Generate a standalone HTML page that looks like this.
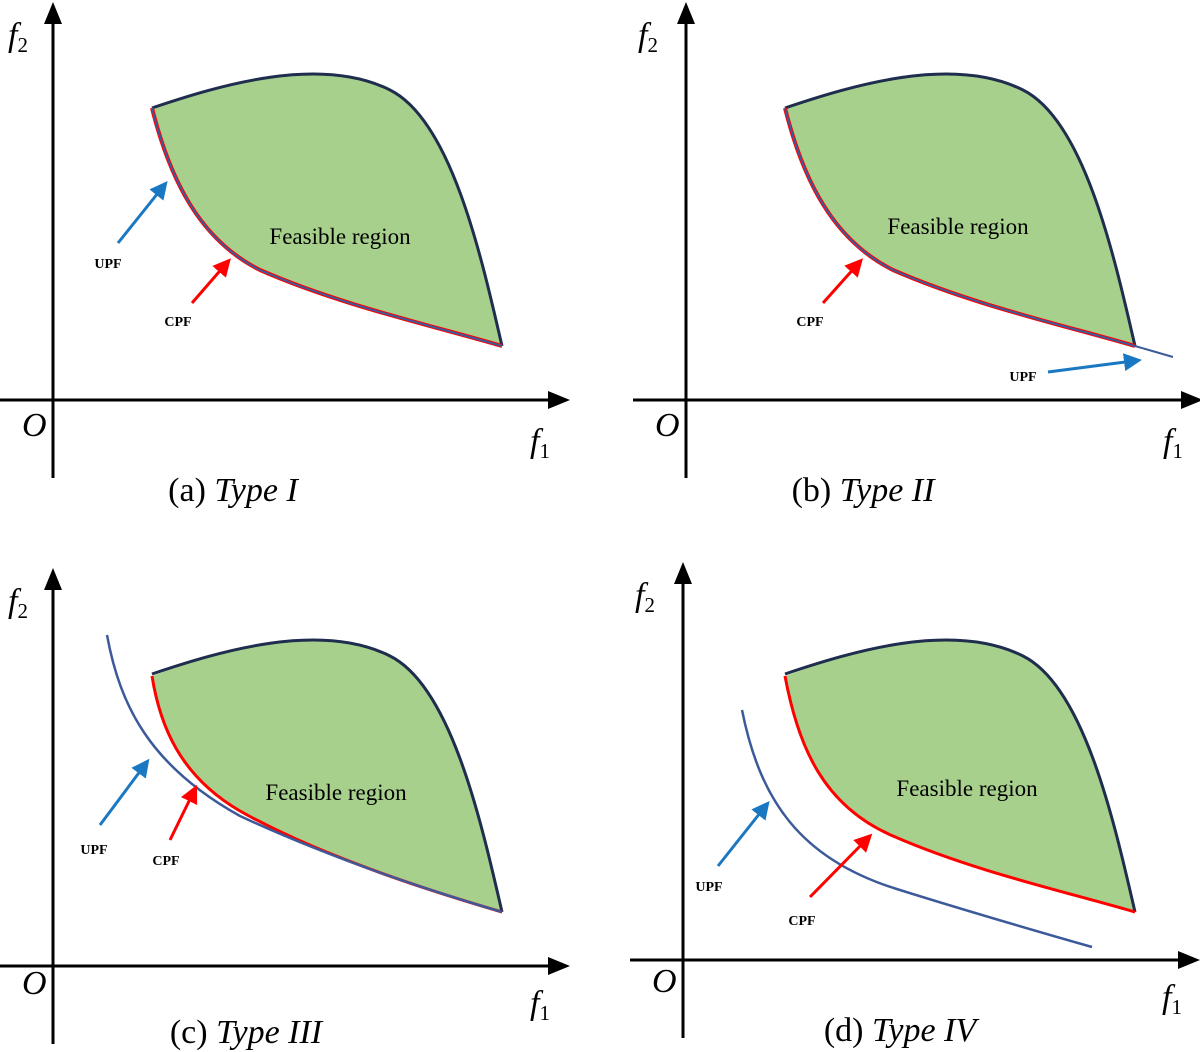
<!DOCTYPE html>
<html><head><meta charset="utf-8"><style>
html,body{margin:0;padding:0;background:#fff;}
svg{display:block;}
text{font-family:"Liberation Serif",serif;fill:#000;}
.lbl{font-size:14px;font-weight:bold;}
.fr{font-size:23px;}
.ax{font-size:34px;font-style:italic;}
.sub{font-size:21px;}
.cap{font-size:34px;}
</style></head><body>
<svg width="1200" height="1052" viewBox="0 0 1200 1052">
<defs>
<marker id="ab" markerWidth="6" markerHeight="6" refX="3" refY="3" orient="auto" markerUnits="strokeWidth"><path d="M0,0 L6,3 L0,6 z" fill="#1a78c2"/></marker>
<marker id="ar" markerWidth="6" markerHeight="6" refX="3" refY="3" orient="auto" markerUnits="strokeWidth"><path d="M0,0 L6,3 L0,6 z" fill="#ff0000"/></marker>
<path id="top" d="M152,108 C220,85 320,55 390,90 C450,120 480,250 502,346" fill="none" stroke="#1f2d4e" stroke-width="3"/>
<g id="axes">
<line x1="53" y1="20" x2="53" y2="478" stroke="#000" stroke-width="3"/>
<path d="M53,2 L44,24 L62,24 Z" fill="#000"/>
<line x1="0" y1="400" x2="550" y2="400" stroke="#000" stroke-width="3"/>
<path d="M570,400 L548,391 L548,409 Z" fill="#000"/>
</g>
</defs>

<!-- Panel a -->
<g>
<use href="#axes"/>
<path d="M152,108 C220,85 320,55 390,90 C450,120 480,250 502,346 C430,325 340,305 260,270 C200,240 170,180 152,108 Z" fill="#a8d08d"/>
<use href="#top"/>
<path d="M152,108 C170,180 200,240 260,270 C340,305 430,325 502,346" fill="none" stroke="#ff0000" stroke-width="4"/>
<path d="M152,108 C170,180 200,240 260,270 C340,305 430,325 502,346" fill="none" stroke="#3c5a9a" stroke-width="2"/>
<text class="fr" x="340" y="244" text-anchor="middle">Feasible region</text>
<line x1="118" y1="243" x2="162" y2="188" stroke="#1a78c2" stroke-width="3" marker-end="url(#ab)"/>
<text class="lbl" x="108" y="268" text-anchor="middle">UPF</text>
<line x1="192" y1="303" x2="225" y2="265" stroke="#ff0000" stroke-width="3" marker-end="url(#ar)"/>
<text class="lbl" x="178" y="326" text-anchor="middle">CPF</text>
<text class="ax" x="8" y="46">f<tspan class="sub" dy="6" font-style="normal">2</tspan></text>
<text class="ax" x="22" y="436" font-size="26">O</text>
<text class="ax" x="530" y="452">f<tspan class="sub" dy="6" font-style="normal">1</tspan></text>
<text class="cap" x="233" y="501" text-anchor="middle">(a) <tspan font-style="italic">Type I</tspan></text>
</g>

<!-- Panel b -->
<g transform="translate(633,0)">
<use href="#axes"/>
<path d="M152,108 C220,85 320,55 390,90 C450,120 480,250 502,346 C430,325 340,305 260,270 C200,240 170,180 152,108 Z" fill="#a8d08d"/>
<use href="#top"/>
<path d="M152,108 C170,180 200,240 260,270 C340,305 430,325 502,346" fill="none" stroke="#ff0000" stroke-width="4"/>
<path d="M152,108 C170,180 200,240 260,270 C340,305 430,325 502,346 L540,357" fill="none" stroke="#3c5a9a" stroke-width="2"/>
<text class="fr" x="325" y="234" text-anchor="middle">Feasible region</text>
<line x1="190" y1="303" x2="224" y2="265" stroke="#ff0000" stroke-width="3" marker-end="url(#ar)"/>
<text class="lbl" x="177" y="326" text-anchor="middle">CPF</text>
<line x1="415" y1="372" x2="500" y2="361" stroke="#1a78c2" stroke-width="3" marker-end="url(#ab)"/>
<text class="lbl" x="390" y="381" text-anchor="middle">UPF</text>
<text class="ax" x="5" y="46">f<tspan class="sub" dy="6" font-style="normal">2</tspan></text>
<text class="ax" x="22" y="436" font-size="26">O</text>
<text class="ax" x="530" y="452">f<tspan class="sub" dy="6" font-style="normal">1</tspan></text>
<text class="cap" x="230" y="501" text-anchor="middle">(b) <tspan font-style="italic">Type II</tspan></text>
</g>

<!-- Panel c -->
<g transform="translate(0,566)">
<use href="#axes"/>
<path d="M152,110 C220,85 320,55 390,90 C450,120 480,250 502,346 C430,325 320,290 240,245 C180,210 160,160 152,110 Z" fill="#a8d08d"/>
<use href="#top"/>
<path d="M152,110 C160,160 180,210 240,245 C320,290 430,325 502,346" fill="none" stroke="#ff0000" stroke-width="3"/>
<path d="M107,69 C120,140 150,200 240,250 C330,292 430,325 502,346" fill="none" stroke="#3c5a9a" stroke-width="2.5"/>
<text class="fr" x="336" y="234" text-anchor="middle">Feasible region</text>
<line x1="100" y1="259" x2="144" y2="200" stroke="#1a78c2" stroke-width="3" marker-end="url(#ab)"/>
<text class="lbl" x="94" y="288" text-anchor="middle">UPF</text>
<line x1="170" y1="274" x2="193" y2="227" stroke="#ff0000" stroke-width="3" marker-end="url(#ar)"/>
<text class="lbl" x="166" y="299" text-anchor="middle">CPF</text>
<text class="ax" x="8" y="46">f<tspan class="sub" dy="6" font-style="normal">2</tspan></text>
<text class="ax" x="22" y="428" font-size="26">O</text>
<text class="ax" x="530" y="448">f<tspan class="sub" dy="6" font-style="normal">1</tspan></text>
<text class="cap" x="246" y="477" text-anchor="middle">(c) <tspan font-style="italic">Type III</tspan></text>
</g>

<!-- Panel d -->
<g transform="translate(630,560)">
<use href="#axes"/>
<g transform="translate(3,6)">
<path d="M152,110 C220,85 320,55 390,90 C450,120 480,250 502,346 C430,325 340,305 260,270 C190,240 165,180 152,110 Z" fill="#a8d08d"/>
<use href="#top"/>
<path d="M152,110 C165,180 190,240 260,270 C340,305 430,325 502,346" fill="none" stroke="#ff0000" stroke-width="3"/>
</g>
<path d="M112,150 C130,240 170,300 270,330 C350,355 420,375 462,387" fill="none" stroke="#3c5a9a" stroke-width="2.5"/>
<text class="fr" x="337" y="236" text-anchor="middle">Feasible region</text>
<line x1="88" y1="306" x2="134" y2="248" stroke="#1a78c2" stroke-width="3" marker-end="url(#ab)"/>
<text class="lbl" x="79" y="331" text-anchor="middle">UPF</text>
<line x1="180" y1="337" x2="236" y2="280" stroke="#ff0000" stroke-width="3" marker-end="url(#ar)"/>
<text class="lbl" x="172" y="365" text-anchor="middle">CPF</text>
<text class="ax" x="5" y="46">f<tspan class="sub" dy="6" font-style="normal">2</tspan></text>
<text class="ax" x="22" y="432" font-size="26">O</text>
<text class="ax" x="532" y="448">f<tspan class="sub" dy="6" font-style="normal">1</tspan></text>
<text class="cap" x="270" y="481" text-anchor="middle">(d) <tspan font-style="italic">Type IV</tspan></text>
</g>
</svg>
</body></html>
